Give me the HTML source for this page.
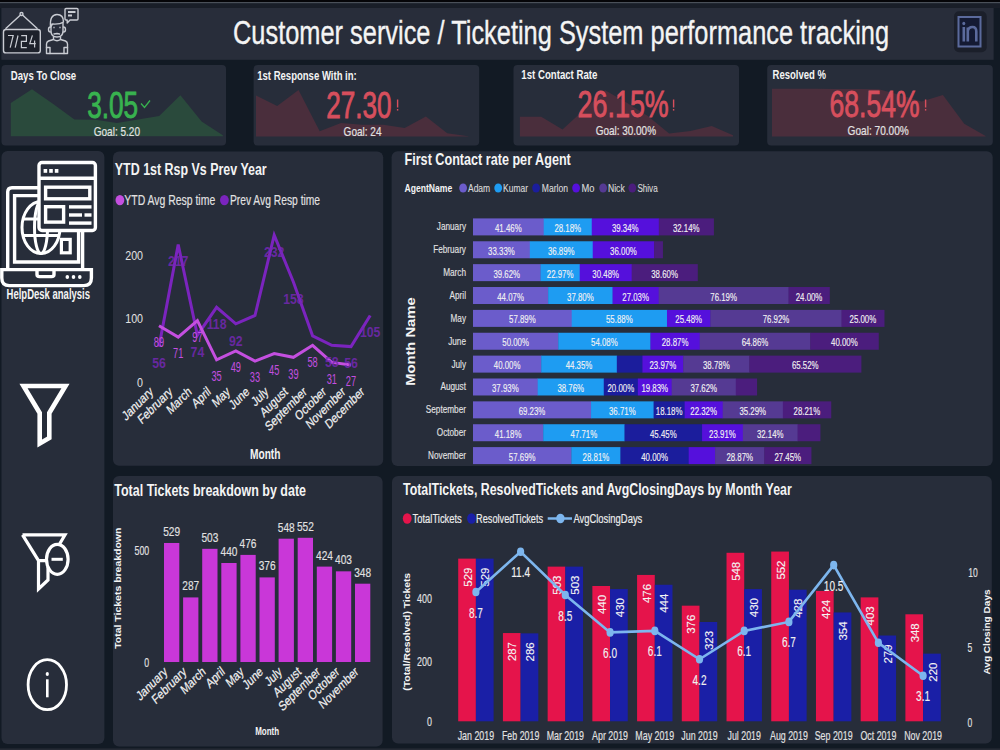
<!DOCTYPE html>
<html><head><meta charset="utf-8"><style>
html,body{margin:0;padding:0;background:#121a24;width:1000px;height:750px;overflow:hidden}
svg{display:block;font-family:"Liberation Sans",sans-serif}
</style></head><body>
<svg width="1000" height="750" viewBox="0 0 1000 750">
<rect x="0" y="0" width="1000" height="750" fill="#121a24"/>
<rect x="0" y="0" width="1000" height="2.2" fill="#050508"/>
<rect x="0" y="2.2" width="1000" height="1.2" fill="#5a5f69"/>
<rect x="0" y="3.4" width="1000" height="4.6" fill="#191e28"/>
<rect x="0" y="748.4" width="1000" height="1.6" fill="#252a34"/>
<rect x="1.4" y="8" width="992.2" height="51.8" fill="#282d3a"/>
<text x="233.00" y="44.00" font-size="32.82" textLength="656.01" lengthAdjust="spacingAndGlyphs" fill="#f4f4f4" stroke="#f4f4f4" stroke-width="0.35">Customer service / Ticketing System performance tracking</text>
<rect x="954" y="11.2" width="32.7" height="41" rx="5" fill="#1b1f2a"/>
<rect x="958.5" y="17" width="22" height="29.5" fill="#141a33" stroke="#5b6a9c" stroke-width="2"/>
<rect x="962.5" y="27" width="2.6" height="14.5" fill="#5b6a9c"/><ellipse cx="963.8" cy="23.5" rx="1.5" ry="1.8" fill="#5b6a9c"/>
<path d="M967.8 41.5 V27.5 M967.8 31 Q968.5 27 972.5 27 Q976.3 27 976.3 31.5 V41.5" fill="none" stroke="#5b6a9c" stroke-width="2.6"/>
<g fill="none" stroke="#c9ccd3" stroke-width="1.4" stroke-linejoin="round">
<rect x="3.5" y="29.5" width="36.8" height="23.4" rx="2.5" fill="#1d212b"/>
<path d="M5.5 28.8 L20.5 15 M37.5 28.8 L22.5 15"/><circle cx="21.5" cy="14" r="1.5"/>
</g>
<g fill="none" stroke="#c9ccd3" stroke-width="1.2" stroke-linejoin="miter" stroke-linecap="butt">
<path d="M8 35.5 H13.2 L10.2 47.6 M18 35.5 L15.2 47.6 M21.2 35.6 H26.4 V41.3 H21.4 V47.6 H26.8 M32.4 35.4 L29.8 43.6 H35.8 M34.6 40.5 V47.6"/>
</g>
<g fill="none" stroke="#c9ccd3" stroke-width="1.4" stroke-linejoin="round" stroke-linecap="round">
<path d="M50.5 27 Q49.5 14.5 57 14.5 Q63.5 14.5 63.5 22 Q60 24.5 52.5 24 Z"/>
<path d="M51 24 V31 Q51 37 57 37 Q63 37 63 31 V23"/>
<path d="M50.5 27 Q48.5 27 48.5 29.5 Q48.5 32 50.5 32 M63.5 27 Q65.5 27 65.5 29.5 Q65.5 32 63.5 32"/>
<path d="M54 34 L57 33.5 L59.5 34"/>
<path d="M53.5 37 V39.5 Q57 42 60.5 39.5 V37"/>
<path d="M53.5 39.5 L48.5 41 Q46.5 42 46.5 44 V53.5 H67.5 V44 Q67.5 42 65.5 41 L60.5 39.5"/>
<path d="M46.5 47.5 H50 V53.5 M67.5 47.5 H64 V53.5"/>
<path d="M66 8.5 H77 Q78 8.5 78 9.5 V19 Q78 20 77 20 H70 L67.2 23 V20 H66 Q65 20 65 19 V9.5 Q65 8.5 66 8.5 Z"/>
</g>
<path d="M68 12 H75.5 M68 15.5 H72" stroke="#c9ccd3" stroke-width="1.8"/>
<path d="M55 27.5 H53 M59 27.5 H61" stroke="#c9ccd3" stroke-width="1.6" stroke-opacity="0.6"/>
<rect x="1.5" y="65" width="224.5" height="80.6" rx="4" fill="#272d3a"/>
<rect x="253.6" y="65" width="225.6" height="80.6" rx="4" fill="#272d3a"/>
<rect x="513.5" y="65" width="225.5" height="80.6" rx="4" fill="#272d3a"/>
<rect x="767.2" y="65" width="225.6" height="80.6" rx="4" fill="#272d3a"/>
<polygon points="10.8,136.2 10.8,103 32.0,89.2 53.2,104 74.4,119.6 95.6,119.8 116.8,123 138.0,119.5 159.2,116 180.4,95.2 201.6,121.6 222.8,135.2 222.8,136.2" fill="#2a4a3c"/>
<polygon points="256,136.5 256.0,95.5 277.2,106 298.5,90 319.7,131.3 341.0,122.9 362.2,124.8 383.4,124.8 404.7,128 425.9,116.4 447.2,133.2 468.4,136.3 468.4,136.5" fill="#4a2e3c"/>
<polygon points="519.9,136.5 519.9,116.8 541.2,116.8 562.5,129.4 583.8,110 605.1,90.3 626.4,102.5 647.8,116 669.1,133.4 690.4,131 711.7,126 733.0,135.2 733,136.5" fill="#4a2e3c"/>
<polygon points="772,136.5 772.0,88.7 793.4,88.7 814.7,88.8 836.1,88.9 857.4,89 878.8,89.3 900.2,95 921.5,101.5 942.9,95 964.2,123.7 985.6,136 985.6,136.5" fill="#4a2e3c"/>
<text x="10.80" y="80.40" font-size="13.41" textLength="65.40" lengthAdjust="spacingAndGlyphs" fill="#f4f4f4" font-weight="bold">Days To Close</text>
<text x="257.20" y="79.70" font-size="13.41" textLength="99.59" lengthAdjust="spacingAndGlyphs" fill="#f4f4f4" font-weight="bold">1st Response With in:</text>
<text x="521.30" y="79.20" font-size="13.41" textLength="76.11" lengthAdjust="spacingAndGlyphs" fill="#f4f4f4" font-weight="bold">1st Contact Rate</text>
<text x="772.50" y="79.20" font-size="13.41" textLength="53.51" lengthAdjust="spacingAndGlyphs" fill="#f4f4f4" font-weight="bold">Resolved %</text>
<text x="87.20" y="117.60" font-size="37.15" textLength="50.97" lengthAdjust="spacingAndGlyphs" fill="#38b24f" stroke="#38b24f" stroke-width="0.9">3.05</text>
<path d="M141 103.5 L144.5 107.5 L150 100.5" fill="none" stroke="#38b24f" stroke-width="1.3"/>
<text x="326.30" y="118.00" font-size="37.15" textLength="65.30" lengthAdjust="spacingAndGlyphs" fill="#d74f5d" stroke="#d74f5d" stroke-width="0.9">27.30</text>
<text x="577.60" y="117.10" font-size="37.15" textLength="91.18" lengthAdjust="spacingAndGlyphs" fill="#d74f5d" stroke="#d74f5d" stroke-width="0.9">26.15%</text>
<text x="829.60" y="117.10" font-size="37.15" textLength="89.98" lengthAdjust="spacingAndGlyphs" fill="#d74f5d" stroke="#d74f5d" stroke-width="0.9">68.54%</text>
<rect x="396.90000000000003" y="99.5" width="1.4" height="8" fill="#d74f5d"/><rect x="396.90000000000003" y="109" width="1.4" height="1.6" fill="#d74f5d"/>
<rect x="672.9" y="99.5" width="1.4" height="8" fill="#d74f5d"/><rect x="672.9" y="109" width="1.4" height="1.6" fill="#d74f5d"/>
<rect x="924.9" y="99.5" width="1.4" height="8" fill="#d74f5d"/><rect x="924.9" y="109" width="1.4" height="1.6" fill="#d74f5d"/>
<text x="93.70" y="136.00" font-size="12.99" textLength="46.29" lengthAdjust="spacingAndGlyphs" fill="#e2e2e2" stroke="#e2e2e2" stroke-width="0.2">Goal: 5.20</text>
<text x="343.60" y="135.60" font-size="12.99" textLength="37.90" lengthAdjust="spacingAndGlyphs" fill="#e2e2e2" stroke="#e2e2e2" stroke-width="0.2">Goal: 24</text>
<text x="595.70" y="135.20" font-size="12.99" textLength="60.30" lengthAdjust="spacingAndGlyphs" fill="#e2e2e2" stroke="#e2e2e2" stroke-width="0.2">Goal: 30.00%</text>
<text x="847.60" y="135.40" font-size="12.99" textLength="61.20" lengthAdjust="spacingAndGlyphs" fill="#e2e2e2" stroke="#e2e2e2" stroke-width="0.2">Goal: 70.00%</text>
<rect x="1.5" y="151" width="102.9" height="593" rx="6" fill="#272d3a"/>
<rect x="113" y="151.5" width="270.2" height="314.2" rx="6" fill="#272d3a"/>
<rect x="391.6" y="151.3" width="601.1" height="314.7" rx="6" fill="#272d3a"/>
<rect x="113" y="476" width="269.6" height="270.4" rx="6" fill="#272d3a"/>
<rect x="392" y="476" width="599.8" height="267.4" rx="6" fill="#272d3a"/>
<g fill="none" stroke="#ffffff" stroke-width="3.4" stroke-linejoin="miter">
<path d="M38 187.7 H12 Q7.7 187.7 7.7 192 V269"/>
<path d="M82.6 230 V269"/>
<path d="M38 195.6 H14.6 V262 H78.6 V230"/>
<path d="M1.8 269.6 H91.4 V278 Q91.4 285.6 83.8 285.6 H9.4 Q1.8 285.6 1.8 278 Z"/>
<path d="M37 269.6 V274.5 Q37 276.6 39.5 276.6 H51.5 Q54 276.6 54 274.5 V269.6"/>
</g>
<g fill="#ffffff">
<ellipse cx="67.3" cy="277" rx="1.8" ry="2.1"/><ellipse cx="73.5" cy="277" rx="1.8" ry="2.1"/><ellipse cx="79.8" cy="277" rx="1.8" ry="2.1"/>
</g>
<g fill="none" stroke="#ffffff" stroke-width="3">
<ellipse cx="41" cy="227.5" rx="19" ry="26"/>
<ellipse cx="41" cy="227.5" rx="6.5" ry="26"/>
<path d="M23.5 219 H58.5 M23.5 235.5 H58.5"/>
</g>
<rect x="61.4" y="239.4" width="8.8" height="13.4" fill="#272d3a" stroke="#ffffff" stroke-width="3.2"/>
<rect x="39" y="162.5" width="56.4" height="68" rx="3" fill="#272d3a" stroke="#ffffff" stroke-width="3.4"/>
<g fill="none" stroke="#ffffff" stroke-width="3.4">
<path d="M39 178.2 H95.4"/>
<rect x="45.6" y="187.2" width="44.2" height="11.6"/>
<rect x="45.6" y="206.7" width="18" height="15.4"/>
</g>
<g fill="#ffffff">
<rect x="43.6" y="169" width="3.6" height="3.8"/><rect x="49.2" y="169" width="3.6" height="3.8"/><rect x="54.8" y="169" width="3.6" height="3.8"/>
<rect x="69" y="205.2" width="22.5" height="3.4"/><rect x="69" y="213.3" width="13" height="3.4"/><rect x="84.5" y="213.3" width="7" height="3.4"/><rect x="69" y="221.4" width="22.5" height="3.4"/>
</g>
<text x="6.60" y="299.00" font-size="13.97" textLength="83.41" lengthAdjust="spacingAndGlyphs" fill="#f4f4f4" font-weight="bold">HelpDesk analysis</text>
<path d="M23.5 386 H65.5 L49.3 413 V438 L39.7 443.5 V413 Z" fill="none" stroke="#ffffff" stroke-width="4.6" stroke-linejoin="miter"/>
<path d="M22.5 534.8 H65 L59 545 M47.5 560.7 H38.5 L22.5 534.8 M38.5 560.7 V589 L48 580 V567" fill="none" stroke="#ffffff" stroke-width="3.2" stroke-linejoin="miter"/>
<ellipse cx="57.3" cy="559.3" rx="10.8" ry="15" fill="none" stroke="#ffffff" stroke-width="3.2"/>
<path d="M51.5 559.3 H62.8" stroke="#ffffff" stroke-width="3"/>
<ellipse cx="47.3" cy="684.7" rx="19.2" ry="25" fill="none" stroke="#ffffff" stroke-width="2.8"/>
<ellipse cx="47.3" cy="674" rx="1.6" ry="1.9" fill="#ffffff"/><rect x="46" y="679.3" width="2.6" height="18" fill="#ffffff"/>
<text x="114.80" y="175.20" font-size="15.92" textLength="151.91" lengthAdjust="spacingAndGlyphs" fill="#f4f4f4" font-weight="bold">YTD 1st Rsp Vs Prev Year</text>
<ellipse cx="119.9" cy="200.1" rx="4.4" ry="5.2" fill="#c44fe0"/>
<text x="124.30" y="204.50" font-size="13.83" textLength="90.90" lengthAdjust="spacingAndGlyphs" fill="#e2e2e2" stroke="#e2e2e2" stroke-width="0.15">YTD Avg Resp time</text>
<ellipse cx="224.4" cy="200.1" rx="4.4" ry="5.2" fill="#7b24be"/>
<text x="229.90" y="204.50" font-size="13.83" textLength="90.21" lengthAdjust="spacingAndGlyphs" fill="#e2e2e2" stroke="#e2e2e2" stroke-width="0.15">Prev Avg Resp time</text>
<text x="125.20" y="260.40" font-size="13.69" textLength="17.81" lengthAdjust="spacingAndGlyphs" fill="#e2e2e2">200</text>
<text x="125.20" y="323.40" font-size="13.69" textLength="17.81" lengthAdjust="spacingAndGlyphs" fill="#e2e2e2">100</text>
<text x="137.07" y="386.90" font-size="13.69" textLength="5.94" lengthAdjust="spacingAndGlyphs" fill="#e2e2e2">0</text>
<polyline points="159.0,346.6 178.2,244.6 197.4,335.2 216.6,307.3 235.8,323.8 255.0,315.5 274.2,235.1 293.4,282.0 312.6,335.8 331.8,345.3 351.0,346.6 370.2,315.5" fill="none" stroke="#7b24be" stroke-width="3" stroke-linejoin="miter"/>
<polyline points="159.0,325.7 178.2,337.1 197.4,320.6 216.6,359.8 235.8,351.0 255.0,361.1 274.2,353.5 293.4,357.3 312.6,345.3 331.8,362.4 351.0,364.9" fill="none" stroke="#c44fe0" stroke-width="3" stroke-linejoin="miter"/>
<text x="153.87" y="346.96" font-size="13.97" textLength="10.25" lengthAdjust="spacingAndGlyphs" fill="#c44fe0">89</text>
<text x="173.07" y="358.36" font-size="13.97" textLength="10.25" lengthAdjust="spacingAndGlyphs" fill="#c44fe0">71</text>
<text x="192.27" y="341.90" font-size="13.97" textLength="10.25" lengthAdjust="spacingAndGlyphs" fill="#c44fe0">97</text>
<text x="211.47" y="381.15" font-size="13.97" textLength="10.25" lengthAdjust="spacingAndGlyphs" fill="#c44fe0">35</text>
<text x="230.67" y="372.28" font-size="13.97" textLength="10.25" lengthAdjust="spacingAndGlyphs" fill="#c44fe0">49</text>
<text x="249.87" y="382.41" font-size="13.97" textLength="10.25" lengthAdjust="spacingAndGlyphs" fill="#c44fe0">33</text>
<text x="269.07" y="374.81" font-size="13.97" textLength="10.25" lengthAdjust="spacingAndGlyphs" fill="#c44fe0">45</text>
<text x="288.27" y="378.61" font-size="13.97" textLength="10.25" lengthAdjust="spacingAndGlyphs" fill="#c44fe0">39</text>
<text x="307.47" y="366.59" font-size="13.97" textLength="10.25" lengthAdjust="spacingAndGlyphs" fill="#c44fe0">58</text>
<text x="326.67" y="383.68" font-size="13.97" textLength="10.25" lengthAdjust="spacingAndGlyphs" fill="#c44fe0">31</text>
<text x="345.87" y="386.21" font-size="13.97" textLength="10.25" lengthAdjust="spacingAndGlyphs" fill="#c44fe0">27</text>
<text x="152.16" y="368.35" font-size="13.97" textLength="13.67" lengthAdjust="spacingAndGlyphs" fill="#7428b4" font-weight="bold" fill-opacity="0.85">56</text>
<text x="167.95" y="266.44" font-size="13.97" textLength="20.51" lengthAdjust="spacingAndGlyphs" fill="#7428b4" font-weight="bold" fill-opacity="0.85">217</text>
<text x="190.56" y="356.96" font-size="13.97" textLength="13.67" lengthAdjust="spacingAndGlyphs" fill="#7428b4" font-weight="bold" fill-opacity="0.85">74</text>
<text x="206.69" y="329.11" font-size="13.97" textLength="19.83" lengthAdjust="spacingAndGlyphs" fill="#7428b4" font-weight="bold" fill-opacity="0.85">118</text>
<text x="228.96" y="345.56" font-size="13.97" textLength="13.67" lengthAdjust="spacingAndGlyphs" fill="#7428b4" font-weight="bold" fill-opacity="0.85">92</text>
<text x="263.95" y="256.94" font-size="13.97" textLength="20.51" lengthAdjust="spacingAndGlyphs" fill="#7428b4" font-weight="bold" fill-opacity="0.85">232</text>
<text x="283.15" y="303.79" font-size="13.97" textLength="20.51" lengthAdjust="spacingAndGlyphs" fill="#7428b4" font-weight="bold" fill-opacity="0.85">158</text>
<text x="324.96" y="367.09" font-size="13.97" textLength="13.67" lengthAdjust="spacingAndGlyphs" fill="#7428b4" font-weight="bold" fill-opacity="0.85">58</text>
<text x="344.16" y="368.35" font-size="13.97" textLength="13.67" lengthAdjust="spacingAndGlyphs" fill="#7428b4" font-weight="bold" fill-opacity="0.85">56</text>
<text x="359.95" y="337.33" font-size="13.97" textLength="20.51" lengthAdjust="spacingAndGlyphs" fill="#7428b4" font-weight="bold" fill-opacity="0.85">105</text>
<g transform="translate(154.00,393.00) scale(1,1.2) rotate(-40)">
<text x="-36.57" y="0.00" font-size="11.17" textLength="36.57" lengthAdjust="spacingAndGlyphs" fill="#f0f0f0" stroke="#f0f0f0" stroke-width="0.2">January</text>
</g>
<g transform="translate(173.20,393.00) scale(1,1.2) rotate(-40)">
<text x="-41.14" y="0.00" font-size="11.17" textLength="41.13" lengthAdjust="spacingAndGlyphs" fill="#f0f0f0" stroke="#f0f0f0" stroke-width="0.2">February</text>
</g>
<g transform="translate(192.40,393.00) scale(1,1.2) rotate(-40)">
<text x="-28.55" y="0.00" font-size="11.17" textLength="28.56" lengthAdjust="spacingAndGlyphs" fill="#f0f0f0" stroke="#f0f0f0" stroke-width="0.2">March</text>
</g>
<g transform="translate(211.60,393.00) scale(1,1.2) rotate(-40)">
<text x="-20.56" y="0.00" font-size="11.17" textLength="20.56" lengthAdjust="spacingAndGlyphs" fill="#f0f0f0" stroke="#f0f0f0" stroke-width="0.2">April</text>
</g>
<g transform="translate(230.80,393.00) scale(1,1.2) rotate(-40)">
<text x="-19.43" y="0.00" font-size="11.17" textLength="19.42" lengthAdjust="spacingAndGlyphs" fill="#f0f0f0" stroke="#f0f0f0" stroke-width="0.2">May</text>
</g>
<g transform="translate(250.00,393.00) scale(1,1.2) rotate(-40)">
<text x="-22.28" y="0.00" font-size="11.17" textLength="22.29" lengthAdjust="spacingAndGlyphs" fill="#f0f0f0" stroke="#f0f0f0" stroke-width="0.2">June</text>
</g>
<g transform="translate(269.20,393.00) scale(1,1.2) rotate(-40)">
<text x="-18.27" y="0.00" font-size="11.17" textLength="18.28" lengthAdjust="spacingAndGlyphs" fill="#f0f0f0" stroke="#f0f0f0" stroke-width="0.2">July</text>
</g>
<g transform="translate(288.40,393.00) scale(1,1.2) rotate(-40)">
<text x="-31.99" y="0.00" font-size="11.17" textLength="32.00" lengthAdjust="spacingAndGlyphs" fill="#f0f0f0" stroke="#f0f0f0" stroke-width="0.2">August</text>
</g>
<g transform="translate(307.60,393.00) scale(1,1.2) rotate(-40)">
<text x="-50.29" y="0.00" font-size="11.17" textLength="50.28" lengthAdjust="spacingAndGlyphs" fill="#f0f0f0" stroke="#f0f0f0" stroke-width="0.2">September</text>
</g>
<g transform="translate(326.80,393.00) scale(1,1.2) rotate(-40)">
<text x="-36.57" y="0.00" font-size="11.17" textLength="36.57" lengthAdjust="spacingAndGlyphs" fill="#f0f0f0" stroke="#f0f0f0" stroke-width="0.2">October</text>
</g>
<g transform="translate(346.00,393.00) scale(1,1.2) rotate(-40)">
<text x="-47.41" y="0.00" font-size="11.17" textLength="47.42" lengthAdjust="spacingAndGlyphs" fill="#f0f0f0" stroke="#f0f0f0" stroke-width="0.2">November</text>
</g>
<g transform="translate(365.20,393.00) scale(1,1.2) rotate(-40)">
<text x="-47.41" y="0.00" font-size="11.17" textLength="47.42" lengthAdjust="spacingAndGlyphs" fill="#f0f0f0" stroke="#f0f0f0" stroke-width="0.2">December</text>
</g>
<text x="250.00" y="458.60" font-size="13.97" textLength="30.41" lengthAdjust="spacingAndGlyphs" fill="#f4f4f4" font-weight="bold">Month</text>
<text x="404.50" y="164.50" font-size="16.20" textLength="166.30" lengthAdjust="spacingAndGlyphs" fill="#f4f4f4" font-weight="bold">First Contact rate per Agent</text>
<text x="404.50" y="191.80" font-size="11.45" textLength="47.79" lengthAdjust="spacingAndGlyphs" fill="#f4f4f4" font-weight="bold">AgentName</text>
<ellipse cx="463.1" cy="188" rx="3.9" ry="4.5" fill="#6b5ccb"/>
<text x="468.00" y="192.00" font-size="11.73" textLength="22.10" lengthAdjust="spacingAndGlyphs" fill="#d8d8d8" stroke="#d8d8d8" stroke-width="0.15">Adam</text>
<ellipse cx="498.2" cy="188" rx="3.9" ry="4.5" fill="#1e9cf2"/>
<text x="503.10" y="192.00" font-size="11.73" textLength="24.90" lengthAdjust="spacingAndGlyphs" fill="#d8d8d8" stroke="#d8d8d8" stroke-width="0.15">Kumar</text>
<ellipse cx="536.1" cy="188" rx="3.9" ry="4.5" fill="#1b1d9c"/>
<text x="541.80" y="192.00" font-size="11.73" textLength="26.19" lengthAdjust="spacingAndGlyphs" fill="#d8d8d8" stroke="#d8d8d8" stroke-width="0.15">Marlon</text>
<ellipse cx="576.1" cy="188" rx="3.9" ry="4.5" fill="#5510dc"/>
<text x="581.50" y="192.00" font-size="11.73" textLength="12.99" lengthAdjust="spacingAndGlyphs" fill="#d8d8d8" stroke="#d8d8d8" stroke-width="0.15">Mo</text>
<ellipse cx="603.1" cy="188" rx="3.9" ry="4.5" fill="#553a93"/>
<text x="608.00" y="192.00" font-size="11.73" textLength="16.67" lengthAdjust="spacingAndGlyphs" fill="#d8d8d8" stroke="#d8d8d8" stroke-width="0.15">Nick</text>
<ellipse cx="632.3" cy="188" rx="3.9" ry="4.5" fill="#4b1d7d"/>
<text x="637.40" y="192.00" font-size="11.73" textLength="20.29" lengthAdjust="spacingAndGlyphs" fill="#d8d8d8" stroke="#d8d8d8" stroke-width="0.15">Shiva</text>
<text x="436.78" y="230.30" font-size="11.73" textLength="29.22" lengthAdjust="spacingAndGlyphs" fill="#e2e2e2" stroke="#e2e2e2" stroke-width="0.15">January</text>
<rect x="473.00" y="218.40" width="70.99" height="17" fill="#6b5ccb"/>
<text x="495.01" y="231.90" font-size="11.73" textLength="26.66" lengthAdjust="spacingAndGlyphs" fill="#f2f2f2" stroke="#f2f2f2" stroke-width="0.15">41.46%</text>
<rect x="543.69" y="218.40" width="48.35" height="17" fill="#1e9cf2"/>
<text x="554.38" y="231.90" font-size="11.73" textLength="26.66" lengthAdjust="spacingAndGlyphs" fill="#f2f2f2" stroke="#f2f2f2" stroke-width="0.15">28.18%</text>
<rect x="591.74" y="218.40" width="67.37" height="17" fill="#5510dc"/>
<text x="611.94" y="231.90" font-size="11.73" textLength="26.66" lengthAdjust="spacingAndGlyphs" fill="#f2f2f2" stroke="#f2f2f2" stroke-width="0.15">39.34%</text>
<rect x="658.81" y="218.40" width="55.10" height="17" fill="#4b1d7d"/>
<text x="672.88" y="231.90" font-size="11.73" textLength="26.66" lengthAdjust="spacingAndGlyphs" fill="#f2f2f2" stroke="#f2f2f2" stroke-width="0.15">32.14%</text>
<text x="433.13" y="253.17" font-size="11.73" textLength="32.86" lengthAdjust="spacingAndGlyphs" fill="#e2e2e2" stroke="#e2e2e2" stroke-width="0.15">February</text>
<rect x="473.00" y="241.27" width="57.13" height="17" fill="#6b5ccb"/>
<text x="488.08" y="254.77" font-size="11.73" textLength="26.66" lengthAdjust="spacingAndGlyphs" fill="#f2f2f2" stroke="#f2f2f2" stroke-width="0.15">33.33%</text>
<rect x="529.83" y="241.27" width="63.20" height="17" fill="#1e9cf2"/>
<text x="547.94" y="254.77" font-size="11.73" textLength="26.66" lengthAdjust="spacingAndGlyphs" fill="#f2f2f2" stroke="#f2f2f2" stroke-width="0.15">36.89%</text>
<rect x="592.73" y="241.27" width="61.68" height="17" fill="#5510dc"/>
<text x="610.08" y="254.77" font-size="11.73" textLength="26.66" lengthAdjust="spacingAndGlyphs" fill="#f2f2f2" stroke="#f2f2f2" stroke-width="0.15">36.00%</text>
<rect x="654.11" y="241.27" width="8.83" height="17" fill="#4b1d7d"/>
<text x="443.19" y="276.04" font-size="11.73" textLength="22.82" lengthAdjust="spacingAndGlyphs" fill="#e2e2e2" stroke="#e2e2e2" stroke-width="0.15">March</text>
<rect x="473.00" y="264.14" width="67.85" height="17" fill="#6b5ccb"/>
<text x="493.44" y="277.64" font-size="11.73" textLength="26.66" lengthAdjust="spacingAndGlyphs" fill="#f2f2f2" stroke="#f2f2f2" stroke-width="0.15">39.62%</text>
<rect x="540.55" y="264.14" width="39.46" height="17" fill="#1e9cf2"/>
<text x="546.80" y="277.64" font-size="11.73" textLength="26.66" lengthAdjust="spacingAndGlyphs" fill="#f2f2f2" stroke="#f2f2f2" stroke-width="0.15">22.97%</text>
<rect x="579.72" y="264.14" width="52.27" height="17" fill="#5510dc"/>
<text x="592.37" y="277.64" font-size="11.73" textLength="26.66" lengthAdjust="spacingAndGlyphs" fill="#f2f2f2" stroke="#f2f2f2" stroke-width="0.15">30.48%</text>
<rect x="631.68" y="264.14" width="66.11" height="17" fill="#4b1d7d"/>
<text x="651.26" y="277.64" font-size="11.73" textLength="26.66" lengthAdjust="spacingAndGlyphs" fill="#f2f2f2" stroke="#f2f2f2" stroke-width="0.15">38.60%</text>
<text x="449.58" y="298.91" font-size="11.73" textLength="16.43" lengthAdjust="spacingAndGlyphs" fill="#e2e2e2" stroke="#e2e2e2" stroke-width="0.15">April</text>
<rect x="473.00" y="287.01" width="75.44" height="17" fill="#6b5ccb"/>
<text x="497.24" y="300.51" font-size="11.73" textLength="26.66" lengthAdjust="spacingAndGlyphs" fill="#f2f2f2" stroke="#f2f2f2" stroke-width="0.15">44.07%</text>
<rect x="548.14" y="287.01" width="64.75" height="17" fill="#1e9cf2"/>
<text x="567.03" y="300.51" font-size="11.73" textLength="26.66" lengthAdjust="spacingAndGlyphs" fill="#f2f2f2" stroke="#f2f2f2" stroke-width="0.15">37.80%</text>
<rect x="612.59" y="287.01" width="46.39" height="17" fill="#5510dc"/>
<text x="622.30" y="300.51" font-size="11.73" textLength="26.66" lengthAdjust="spacingAndGlyphs" fill="#f2f2f2" stroke="#f2f2f2" stroke-width="0.15">27.03%</text>
<rect x="658.67" y="287.01" width="130.20" height="17" fill="#553a93"/>
<text x="710.29" y="300.51" font-size="11.73" textLength="26.66" lengthAdjust="spacingAndGlyphs" fill="#f2f2f2" stroke="#f2f2f2" stroke-width="0.15">76.19%</text>
<rect x="788.58" y="287.01" width="41.22" height="17" fill="#4b1d7d"/>
<text x="795.71" y="300.51" font-size="11.73" textLength="26.66" lengthAdjust="spacingAndGlyphs" fill="#f2f2f2" stroke="#f2f2f2" stroke-width="0.15">24.00%</text>
<text x="450.48" y="321.78" font-size="11.73" textLength="15.51" lengthAdjust="spacingAndGlyphs" fill="#e2e2e2" stroke="#e2e2e2" stroke-width="0.15">May</text>
<rect x="473.00" y="309.88" width="99.00" height="17" fill="#6b5ccb"/>
<text x="509.02" y="323.38" font-size="11.73" textLength="26.66" lengthAdjust="spacingAndGlyphs" fill="#f2f2f2" stroke="#f2f2f2" stroke-width="0.15">57.89%</text>
<rect x="571.70" y="309.88" width="95.58" height="17" fill="#1e9cf2"/>
<text x="606.01" y="323.38" font-size="11.73" textLength="26.66" lengthAdjust="spacingAndGlyphs" fill="#f2f2f2" stroke="#f2f2f2" stroke-width="0.15">55.88%</text>
<rect x="666.98" y="309.88" width="43.74" height="17" fill="#5510dc"/>
<text x="675.37" y="323.38" font-size="11.73" textLength="26.66" lengthAdjust="spacingAndGlyphs" fill="#f2f2f2" stroke="#f2f2f2" stroke-width="0.15">25.48%</text>
<rect x="710.42" y="309.88" width="131.45" height="17" fill="#553a93"/>
<text x="762.66" y="323.38" font-size="11.73" textLength="26.66" lengthAdjust="spacingAndGlyphs" fill="#f2f2f2" stroke="#f2f2f2" stroke-width="0.15">76.92%</text>
<rect x="841.57" y="309.88" width="42.92" height="17" fill="#4b1d7d"/>
<text x="849.55" y="323.38" font-size="11.73" textLength="26.66" lengthAdjust="spacingAndGlyphs" fill="#f2f2f2" stroke="#f2f2f2" stroke-width="0.15">25.00%</text>
<text x="448.20" y="344.65" font-size="11.73" textLength="17.81" lengthAdjust="spacingAndGlyphs" fill="#e2e2e2" stroke="#e2e2e2" stroke-width="0.15">June</text>
<rect x="473.00" y="332.75" width="85.55" height="17" fill="#6b5ccb"/>
<text x="502.29" y="346.25" font-size="11.73" textLength="26.66" lengthAdjust="spacingAndGlyphs" fill="#f2f2f2" stroke="#f2f2f2" stroke-width="0.15">50.00%</text>
<rect x="558.25" y="332.75" width="92.51" height="17" fill="#1e9cf2"/>
<text x="591.02" y="346.25" font-size="11.73" textLength="26.66" lengthAdjust="spacingAndGlyphs" fill="#f2f2f2" stroke="#f2f2f2" stroke-width="0.15">54.08%</text>
<rect x="650.46" y="332.75" width="49.52" height="17" fill="#5510dc"/>
<text x="661.73" y="346.25" font-size="11.73" textLength="26.66" lengthAdjust="spacingAndGlyphs" fill="#f2f2f2" stroke="#f2f2f2" stroke-width="0.15">28.87%</text>
<rect x="699.68" y="332.75" width="110.89" height="17" fill="#553a93"/>
<text x="741.64" y="346.25" font-size="11.73" textLength="26.66" lengthAdjust="spacingAndGlyphs" fill="#f2f2f2" stroke="#f2f2f2" stroke-width="0.15">64.86%</text>
<rect x="810.27" y="332.75" width="68.50" height="17" fill="#4b1d7d"/>
<text x="831.03" y="346.25" font-size="11.73" textLength="26.66" lengthAdjust="spacingAndGlyphs" fill="#f2f2f2" stroke="#f2f2f2" stroke-width="0.15">40.00%</text>
<text x="451.40" y="367.52" font-size="11.73" textLength="14.60" lengthAdjust="spacingAndGlyphs" fill="#e2e2e2" stroke="#e2e2e2" stroke-width="0.15">July</text>
<rect x="473.00" y="355.62" width="68.50" height="17" fill="#6b5ccb"/>
<text x="493.77" y="369.12" font-size="11.73" textLength="26.66" lengthAdjust="spacingAndGlyphs" fill="#f2f2f2" stroke="#f2f2f2" stroke-width="0.15">40.00%</text>
<rect x="541.20" y="355.62" width="75.92" height="17" fill="#1e9cf2"/>
<text x="565.68" y="369.12" font-size="11.73" textLength="26.66" lengthAdjust="spacingAndGlyphs" fill="#f2f2f2" stroke="#f2f2f2" stroke-width="0.15">44.35%</text>
<rect x="616.82" y="355.62" width="25.88" height="17" fill="#1b1d9c"/>
<rect x="642.39" y="355.62" width="41.17" height="17" fill="#5510dc"/>
<text x="649.49" y="369.12" font-size="11.73" textLength="26.66" lengthAdjust="spacingAndGlyphs" fill="#f2f2f2" stroke="#f2f2f2" stroke-width="0.15">23.97%</text>
<rect x="683.26" y="355.62" width="66.42" height="17" fill="#553a93"/>
<text x="702.99" y="369.12" font-size="11.73" textLength="26.66" lengthAdjust="spacingAndGlyphs" fill="#f2f2f2" stroke="#f2f2f2" stroke-width="0.15">38.78%</text>
<rect x="749.38" y="355.62" width="112.01" height="17" fill="#4b1d7d"/>
<text x="791.90" y="369.12" font-size="11.73" textLength="26.66" lengthAdjust="spacingAndGlyphs" fill="#f2f2f2" stroke="#f2f2f2" stroke-width="0.15">65.52%</text>
<text x="440.44" y="390.39" font-size="11.73" textLength="25.57" lengthAdjust="spacingAndGlyphs" fill="#e2e2e2" stroke="#e2e2e2" stroke-width="0.15">August</text>
<rect x="473.00" y="378.49" width="64.97" height="17" fill="#6b5ccb"/>
<text x="492.00" y="391.99" font-size="11.73" textLength="26.66" lengthAdjust="spacingAndGlyphs" fill="#f2f2f2" stroke="#f2f2f2" stroke-width="0.15">37.93%</text>
<rect x="537.67" y="378.49" width="66.39" height="17" fill="#1e9cf2"/>
<text x="557.38" y="391.99" font-size="11.73" textLength="26.66" lengthAdjust="spacingAndGlyphs" fill="#f2f2f2" stroke="#f2f2f2" stroke-width="0.15">38.76%</text>
<rect x="603.76" y="378.49" width="34.40" height="17" fill="#1b1d9c"/>
<text x="607.47" y="391.99" font-size="11.73" textLength="26.66" lengthAdjust="spacingAndGlyphs" fill="#f2f2f2" stroke="#f2f2f2" stroke-width="0.15">20.00%</text>
<rect x="637.86" y="378.49" width="34.11" height="17" fill="#5510dc"/>
<text x="641.43" y="391.99" font-size="11.73" textLength="26.66" lengthAdjust="spacingAndGlyphs" fill="#f2f2f2" stroke="#f2f2f2" stroke-width="0.15">19.83%</text>
<rect x="671.67" y="378.49" width="64.44" height="17" fill="#553a93"/>
<text x="690.40" y="391.99" font-size="11.73" textLength="26.66" lengthAdjust="spacingAndGlyphs" fill="#f2f2f2" stroke="#f2f2f2" stroke-width="0.15">37.62%</text>
<rect x="735.81" y="378.49" width="21.27" height="17" fill="#4b1d7d"/>
<text x="425.82" y="413.26" font-size="11.73" textLength="40.17" lengthAdjust="spacingAndGlyphs" fill="#e2e2e2" stroke="#e2e2e2" stroke-width="0.15">September</text>
<rect x="473.00" y="401.36" width="118.34" height="17" fill="#6b5ccb"/>
<text x="518.69" y="414.86" font-size="11.73" textLength="26.66" lengthAdjust="spacingAndGlyphs" fill="#f2f2f2" stroke="#f2f2f2" stroke-width="0.15">69.23%</text>
<rect x="591.04" y="401.36" width="62.89" height="17" fill="#1e9cf2"/>
<text x="609.00" y="414.86" font-size="11.73" textLength="26.66" lengthAdjust="spacingAndGlyphs" fill="#f2f2f2" stroke="#f2f2f2" stroke-width="0.15">36.71%</text>
<rect x="653.63" y="401.36" width="31.30" height="17" fill="#1b1d9c"/>
<text x="655.79" y="414.86" font-size="11.73" textLength="26.66" lengthAdjust="spacingAndGlyphs" fill="#f2f2f2" stroke="#f2f2f2" stroke-width="0.15">18.18%</text>
<rect x="684.62" y="401.36" width="38.36" height="17" fill="#5510dc"/>
<text x="690.32" y="414.86" font-size="11.73" textLength="26.66" lengthAdjust="spacingAndGlyphs" fill="#f2f2f2" stroke="#f2f2f2" stroke-width="0.15">22.32%</text>
<rect x="722.68" y="401.36" width="60.47" height="17" fill="#553a93"/>
<text x="739.43" y="414.86" font-size="11.73" textLength="26.66" lengthAdjust="spacingAndGlyphs" fill="#f2f2f2" stroke="#f2f2f2" stroke-width="0.15">35.29%</text>
<rect x="782.85" y="401.36" width="48.40" height="17" fill="#4b1d7d"/>
<text x="793.57" y="414.86" font-size="11.73" textLength="26.66" lengthAdjust="spacingAndGlyphs" fill="#f2f2f2" stroke="#f2f2f2" stroke-width="0.15">28.21%</text>
<text x="436.78" y="436.13" font-size="11.73" textLength="29.21" lengthAdjust="spacingAndGlyphs" fill="#e2e2e2" stroke="#e2e2e2" stroke-width="0.15">October</text>
<rect x="473.00" y="424.23" width="70.51" height="17" fill="#6b5ccb"/>
<text x="494.77" y="437.73" font-size="11.73" textLength="26.66" lengthAdjust="spacingAndGlyphs" fill="#f2f2f2" stroke="#f2f2f2" stroke-width="0.15">41.18%</text>
<rect x="543.21" y="424.23" width="81.65" height="17" fill="#1e9cf2"/>
<text x="570.55" y="437.73" font-size="11.73" textLength="26.66" lengthAdjust="spacingAndGlyphs" fill="#f2f2f2" stroke="#f2f2f2" stroke-width="0.15">47.71%</text>
<rect x="624.56" y="424.23" width="77.79" height="17" fill="#1b1d9c"/>
<text x="649.97" y="437.73" font-size="11.73" textLength="26.66" lengthAdjust="spacingAndGlyphs" fill="#f2f2f2" stroke="#f2f2f2" stroke-width="0.15">45.45%</text>
<rect x="702.05" y="424.23" width="41.07" height="17" fill="#5510dc"/>
<text x="709.10" y="437.73" font-size="11.73" textLength="26.66" lengthAdjust="spacingAndGlyphs" fill="#f2f2f2" stroke="#f2f2f2" stroke-width="0.15">23.91%</text>
<rect x="742.82" y="424.23" width="55.10" height="17" fill="#553a93"/>
<text x="756.88" y="437.73" font-size="11.73" textLength="26.66" lengthAdjust="spacingAndGlyphs" fill="#f2f2f2" stroke="#f2f2f2" stroke-width="0.15">32.14%</text>
<rect x="797.61" y="424.23" width="22.81" height="17" fill="#4b1d7d"/>
<text x="428.12" y="459.00" font-size="11.73" textLength="37.88" lengthAdjust="spacingAndGlyphs" fill="#e2e2e2" stroke="#e2e2e2" stroke-width="0.15">November</text>
<rect x="473.00" y="447.10" width="98.66" height="17" fill="#6b5ccb"/>
<text x="508.85" y="460.60" font-size="11.73" textLength="26.66" lengthAdjust="spacingAndGlyphs" fill="#f2f2f2" stroke="#f2f2f2" stroke-width="0.15">57.69%</text>
<rect x="571.36" y="447.10" width="49.42" height="17" fill="#1e9cf2"/>
<text x="582.59" y="460.60" font-size="11.73" textLength="26.66" lengthAdjust="spacingAndGlyphs" fill="#f2f2f2" stroke="#f2f2f2" stroke-width="0.15">28.81%</text>
<rect x="620.48" y="447.10" width="68.50" height="17" fill="#1b1d9c"/>
<text x="641.25" y="460.60" font-size="11.73" textLength="26.66" lengthAdjust="spacingAndGlyphs" fill="#f2f2f2" stroke="#f2f2f2" stroke-width="0.15">40.00%</text>
<rect x="688.68" y="447.10" width="26.73" height="17" fill="#5510dc"/>
<rect x="715.11" y="447.10" width="49.52" height="17" fill="#553a93"/>
<text x="726.39" y="460.60" font-size="11.73" textLength="26.66" lengthAdjust="spacingAndGlyphs" fill="#f2f2f2" stroke="#f2f2f2" stroke-width="0.15">28.87%</text>
<rect x="764.33" y="447.10" width="47.10" height="17" fill="#4b1d7d"/>
<text x="774.40" y="460.60" font-size="11.73" textLength="26.66" lengthAdjust="spacingAndGlyphs" fill="#f2f2f2" stroke="#f2f2f2" stroke-width="0.15">27.45%</text>
<g transform="translate(410.20,341.60)  rotate(-90)">
<text x="-44.25" y="4.80" font-size="13.41" textLength="88.49" lengthAdjust="spacingAndGlyphs" fill="#f4f4f4" font-weight="bold">Month Name</text>
</g>
<text x="114.30" y="495.50" font-size="16.76" textLength="191.69" lengthAdjust="spacingAndGlyphs" fill="#f4f4f4" font-weight="bold">Total Tickets breakdown by date</text>
<rect x="164.00" y="542.98" width="15.3" height="119.03" fill="#c937d8"/>
<text x="163.21" y="535.88" font-size="13.69" textLength="16.90" lengthAdjust="spacingAndGlyphs" fill="#e2e2e2" stroke="#e2e2e2" stroke-width="0.15">529</text>
<g transform="translate(168.15,673.00) scale(1,1.2) rotate(-40)">
<text x="-36.57" y="0.00" font-size="11.17" textLength="36.57" lengthAdjust="spacingAndGlyphs" fill="#f0f0f0" stroke="#f0f0f0" stroke-width="0.2">January</text>
</g>
<rect x="183.10" y="597.42" width="15.3" height="64.58" fill="#c937d8"/>
<text x="182.31" y="590.32" font-size="13.69" textLength="16.90" lengthAdjust="spacingAndGlyphs" fill="#e2e2e2" stroke="#e2e2e2" stroke-width="0.15">287</text>
<g transform="translate(187.25,673.00) scale(1,1.2) rotate(-40)">
<text x="-41.14" y="0.00" font-size="11.17" textLength="41.13" lengthAdjust="spacingAndGlyphs" fill="#f0f0f0" stroke="#f0f0f0" stroke-width="0.2">February</text>
</g>
<rect x="202.20" y="548.83" width="15.3" height="113.17" fill="#c937d8"/>
<text x="201.41" y="541.73" font-size="13.69" textLength="16.90" lengthAdjust="spacingAndGlyphs" fill="#e2e2e2" stroke="#e2e2e2" stroke-width="0.15">503</text>
<g transform="translate(206.35,673.00) scale(1,1.2) rotate(-40)">
<text x="-28.55" y="0.00" font-size="11.17" textLength="28.56" lengthAdjust="spacingAndGlyphs" fill="#f0f0f0" stroke="#f0f0f0" stroke-width="0.2">March</text>
</g>
<rect x="221.30" y="563.00" width="15.3" height="99.00" fill="#c937d8"/>
<text x="220.51" y="555.90" font-size="13.69" textLength="16.90" lengthAdjust="spacingAndGlyphs" fill="#e2e2e2" stroke="#e2e2e2" stroke-width="0.15">440</text>
<g transform="translate(225.45,673.00) scale(1,1.2) rotate(-40)">
<text x="-20.56" y="0.00" font-size="11.17" textLength="20.56" lengthAdjust="spacingAndGlyphs" fill="#f0f0f0" stroke="#f0f0f0" stroke-width="0.2">April</text>
</g>
<rect x="240.40" y="554.90" width="15.3" height="107.10" fill="#c937d8"/>
<text x="239.61" y="547.80" font-size="13.69" textLength="16.90" lengthAdjust="spacingAndGlyphs" fill="#e2e2e2" stroke="#e2e2e2" stroke-width="0.15">476</text>
<g transform="translate(244.55,673.00) scale(1,1.2) rotate(-40)">
<text x="-19.43" y="0.00" font-size="11.17" textLength="19.42" lengthAdjust="spacingAndGlyphs" fill="#f0f0f0" stroke="#f0f0f0" stroke-width="0.2">May</text>
</g>
<rect x="259.50" y="577.40" width="15.3" height="84.60" fill="#c937d8"/>
<text x="258.71" y="570.30" font-size="13.69" textLength="16.90" lengthAdjust="spacingAndGlyphs" fill="#e2e2e2" stroke="#e2e2e2" stroke-width="0.15">376</text>
<g transform="translate(263.65,673.00) scale(1,1.2) rotate(-40)">
<text x="-22.28" y="0.00" font-size="11.17" textLength="22.29" lengthAdjust="spacingAndGlyphs" fill="#f0f0f0" stroke="#f0f0f0" stroke-width="0.2">June</text>
</g>
<rect x="278.60" y="538.70" width="15.3" height="123.30" fill="#c937d8"/>
<text x="277.81" y="531.60" font-size="13.69" textLength="16.90" lengthAdjust="spacingAndGlyphs" fill="#e2e2e2" stroke="#e2e2e2" stroke-width="0.15">548</text>
<g transform="translate(282.75,673.00) scale(1,1.2) rotate(-40)">
<text x="-18.27" y="0.00" font-size="11.17" textLength="18.28" lengthAdjust="spacingAndGlyphs" fill="#f0f0f0" stroke="#f0f0f0" stroke-width="0.2">July</text>
</g>
<rect x="297.70" y="537.80" width="15.3" height="124.20" fill="#c937d8"/>
<text x="296.91" y="530.70" font-size="13.69" textLength="16.90" lengthAdjust="spacingAndGlyphs" fill="#e2e2e2" stroke="#e2e2e2" stroke-width="0.15">552</text>
<g transform="translate(301.85,673.00) scale(1,1.2) rotate(-40)">
<text x="-31.99" y="0.00" font-size="11.17" textLength="32.00" lengthAdjust="spacingAndGlyphs" fill="#f0f0f0" stroke="#f0f0f0" stroke-width="0.2">August</text>
</g>
<rect x="316.80" y="566.60" width="15.3" height="95.40" fill="#c937d8"/>
<text x="316.01" y="559.50" font-size="13.69" textLength="16.90" lengthAdjust="spacingAndGlyphs" fill="#e2e2e2" stroke="#e2e2e2" stroke-width="0.15">424</text>
<g transform="translate(320.95,673.00) scale(1,1.2) rotate(-40)">
<text x="-50.29" y="0.00" font-size="11.17" textLength="50.28" lengthAdjust="spacingAndGlyphs" fill="#f0f0f0" stroke="#f0f0f0" stroke-width="0.2">September</text>
</g>
<rect x="335.90" y="571.33" width="15.3" height="90.67" fill="#c937d8"/>
<text x="335.11" y="564.23" font-size="13.69" textLength="16.90" lengthAdjust="spacingAndGlyphs" fill="#e2e2e2" stroke="#e2e2e2" stroke-width="0.15">403</text>
<g transform="translate(340.05,673.00) scale(1,1.2) rotate(-40)">
<text x="-36.57" y="0.00" font-size="11.17" textLength="36.57" lengthAdjust="spacingAndGlyphs" fill="#f0f0f0" stroke="#f0f0f0" stroke-width="0.2">October</text>
</g>
<rect x="355.00" y="583.70" width="15.3" height="78.30" fill="#c937d8"/>
<text x="354.21" y="576.60" font-size="13.69" textLength="16.90" lengthAdjust="spacingAndGlyphs" fill="#e2e2e2" stroke="#e2e2e2" stroke-width="0.15">348</text>
<g transform="translate(359.15,673.00) scale(1,1.2) rotate(-40)">
<text x="-47.41" y="0.00" font-size="11.17" textLength="47.42" lengthAdjust="spacingAndGlyphs" fill="#f0f0f0" stroke="#f0f0f0" stroke-width="0.2">November</text>
</g>
<text x="134.53" y="554.50" font-size="12.57" textLength="14.68" lengthAdjust="spacingAndGlyphs" fill="#e2e2e2" stroke="#e2e2e2" stroke-width="0.15">500</text>
<text x="144.32" y="666.50" font-size="12.57" textLength="4.89" lengthAdjust="spacingAndGlyphs" fill="#e2e2e2" stroke="#e2e2e2" stroke-width="0.15">0</text>
<g transform="translate(117.40,588.20)  rotate(-90)">
<text x="-60.60" y="3.30" font-size="9.22" textLength="121.20" lengthAdjust="spacingAndGlyphs" fill="#f4f4f4" font-weight="bold">Total Tickets breakdown</text>
</g>
<text x="255.20" y="734.70" font-size="11.45" textLength="23.91" lengthAdjust="spacingAndGlyphs" fill="#f4f4f4" font-weight="bold">Month</text>
<text x="403.00" y="495.20" font-size="16.76" textLength="388.69" lengthAdjust="spacingAndGlyphs" fill="#f4f4f4" font-weight="bold">TotalTickets, ResolvedTickets and AvgClosingDays by Month Year</text>
<ellipse cx="407.2" cy="518.5" rx="4.4" ry="5.2" fill="#e5144b"/>
<text x="412.60" y="523.00" font-size="12.85" textLength="49.20" lengthAdjust="spacingAndGlyphs" fill="#ececec" stroke="#ececec" stroke-width="0.2">TotalTickets</text>
<ellipse cx="471.5" cy="518.5" rx="4.4" ry="5.2" fill="#1a1fa6"/>
<text x="476.10" y="523.00" font-size="12.85" textLength="66.99" lengthAdjust="spacingAndGlyphs" fill="#ececec" stroke="#ececec" stroke-width="0.2">ResolvedTickets</text>
<path d="M547.7 518.5 H572" stroke="#7db6ee" stroke-width="2.5"/><ellipse cx="560.4" cy="518.5" rx="4.2" ry="4.8" fill="#7db6ee"/>
<text x="573.40" y="523.00" font-size="12.85" textLength="68.91" lengthAdjust="spacingAndGlyphs" fill="#ececec" stroke="#ececec" stroke-width="0.2">AvgClosingDays</text>
<rect x="458.20" y="558.63" width="17.7" height="162.67" fill="#e5144b"/>
<rect x="475.90" y="558.63" width="17.7" height="162.67" fill="#1a1fa6"/>
<rect x="502.92" y="633.05" width="17.7" height="88.25" fill="#e5144b"/>
<rect x="520.62" y="633.36" width="17.7" height="87.94" fill="#1a1fa6"/>
<rect x="547.64" y="566.63" width="17.7" height="154.67" fill="#e5144b"/>
<rect x="565.34" y="566.63" width="17.7" height="154.67" fill="#1a1fa6"/>
<rect x="592.36" y="586.00" width="17.7" height="135.30" fill="#e5144b"/>
<rect x="610.06" y="589.07" width="17.7" height="132.22" fill="#1a1fa6"/>
<rect x="637.08" y="574.93" width="17.7" height="146.37" fill="#e5144b"/>
<rect x="654.78" y="584.77" width="17.7" height="136.53" fill="#1a1fa6"/>
<rect x="681.80" y="605.68" width="17.7" height="115.62" fill="#e5144b"/>
<rect x="699.50" y="621.98" width="17.7" height="99.32" fill="#1a1fa6"/>
<rect x="726.52" y="552.79" width="17.7" height="168.51" fill="#e5144b"/>
<rect x="744.22" y="589.07" width="17.7" height="132.22" fill="#1a1fa6"/>
<rect x="771.24" y="551.56" width="17.7" height="169.74" fill="#e5144b"/>
<rect x="788.94" y="589.69" width="17.7" height="131.61" fill="#1a1fa6"/>
<rect x="815.96" y="590.92" width="17.7" height="130.38" fill="#e5144b"/>
<rect x="833.66" y="612.44" width="17.7" height="108.86" fill="#1a1fa6"/>
<rect x="860.68" y="597.38" width="17.7" height="123.92" fill="#e5144b"/>
<rect x="878.38" y="635.51" width="17.7" height="85.79" fill="#1a1fa6"/>
<rect x="905.40" y="614.29" width="17.7" height="107.01" fill="#e5144b"/>
<rect x="923.10" y="653.65" width="17.7" height="67.65" fill="#1a1fa6"/>
<g transform="translate(471.75,567.63)  rotate(-90)">
<text x="-19.07" y="0.00" font-size="10.89" textLength="19.09" lengthAdjust="spacingAndGlyphs" fill="#f4f4f4" stroke="#f4f4f4" stroke-width="0.1">529</text>
</g>
<g transform="translate(489.45,567.63)  rotate(-90)">
<text x="-19.07" y="0.00" font-size="10.89" textLength="19.09" lengthAdjust="spacingAndGlyphs" fill="#f4f4f4" stroke="#f4f4f4" stroke-width="0.1">529</text>
</g>
<text x="457.69" y="739.70" font-size="12.29" textLength="36.41" lengthAdjust="spacingAndGlyphs" fill="#e2e2e2" stroke="#e2e2e2" stroke-width="0.15">Jan 2019</text>
<g transform="translate(516.47,642.05)  rotate(-90)">
<text x="-19.07" y="0.00" font-size="10.89" textLength="19.09" lengthAdjust="spacingAndGlyphs" fill="#f4f4f4" stroke="#f4f4f4" stroke-width="0.1">287</text>
</g>
<g transform="translate(534.17,642.36)  rotate(-90)">
<text x="-19.07" y="0.00" font-size="10.89" textLength="19.09" lengthAdjust="spacingAndGlyphs" fill="#f4f4f4" stroke="#f4f4f4" stroke-width="0.1">286</text>
</g>
<text x="501.93" y="739.70" font-size="12.29" textLength="37.39" lengthAdjust="spacingAndGlyphs" fill="#e2e2e2" stroke="#e2e2e2" stroke-width="0.15">Feb 2019</text>
<g transform="translate(561.19,575.63)  rotate(-90)">
<text x="-19.07" y="0.00" font-size="10.89" textLength="19.09" lengthAdjust="spacingAndGlyphs" fill="#f4f4f4" stroke="#f4f4f4" stroke-width="0.1">503</text>
</g>
<g transform="translate(578.89,575.63)  rotate(-90)">
<text x="-19.07" y="0.00" font-size="10.89" textLength="19.09" lengthAdjust="spacingAndGlyphs" fill="#f4f4f4" stroke="#f4f4f4" stroke-width="0.1">503</text>
</g>
<text x="546.65" y="739.70" font-size="12.29" textLength="37.39" lengthAdjust="spacingAndGlyphs" fill="#e2e2e2" stroke="#e2e2e2" stroke-width="0.15">Mar 2019</text>
<g transform="translate(605.91,595.00)  rotate(-90)">
<text x="-19.07" y="0.00" font-size="10.89" textLength="19.09" lengthAdjust="spacingAndGlyphs" fill="#f4f4f4" stroke="#f4f4f4" stroke-width="0.1">440</text>
</g>
<g transform="translate(623.61,598.07)  rotate(-90)">
<text x="-19.07" y="0.00" font-size="10.89" textLength="19.09" lengthAdjust="spacingAndGlyphs" fill="#f4f4f4" stroke="#f4f4f4" stroke-width="0.1">430</text>
</g>
<text x="592.11" y="739.70" font-size="12.29" textLength="35.92" lengthAdjust="spacingAndGlyphs" fill="#e2e2e2" stroke="#e2e2e2" stroke-width="0.15">Apr 2019</text>
<g transform="translate(650.63,583.93)  rotate(-90)">
<text x="-19.07" y="0.00" font-size="10.89" textLength="19.09" lengthAdjust="spacingAndGlyphs" fill="#f4f4f4" stroke="#f4f4f4" stroke-width="0.1">476</text>
</g>
<g transform="translate(668.33,593.77)  rotate(-90)">
<text x="-19.07" y="0.00" font-size="10.89" textLength="19.09" lengthAdjust="spacingAndGlyphs" fill="#f4f4f4" stroke="#f4f4f4" stroke-width="0.1">444</text>
</g>
<text x="635.35" y="739.70" font-size="12.29" textLength="38.86" lengthAdjust="spacingAndGlyphs" fill="#e2e2e2" stroke="#e2e2e2" stroke-width="0.15">May 2019</text>
<g transform="translate(695.35,614.68)  rotate(-90)">
<text x="-19.07" y="0.00" font-size="10.89" textLength="19.09" lengthAdjust="spacingAndGlyphs" fill="#f4f4f4" stroke="#f4f4f4" stroke-width="0.1">376</text>
</g>
<g transform="translate(713.05,630.98)  rotate(-90)">
<text x="-19.07" y="0.00" font-size="10.89" textLength="19.09" lengthAdjust="spacingAndGlyphs" fill="#f4f4f4" stroke="#f4f4f4" stroke-width="0.1">323</text>
</g>
<text x="681.29" y="739.70" font-size="12.29" textLength="36.41" lengthAdjust="spacingAndGlyphs" fill="#e2e2e2" stroke="#e2e2e2" stroke-width="0.15">Jun 2019</text>
<g transform="translate(740.07,561.79)  rotate(-90)">
<text x="-19.07" y="0.00" font-size="10.89" textLength="19.09" lengthAdjust="spacingAndGlyphs" fill="#f4f4f4" stroke="#f4f4f4" stroke-width="0.1">548</text>
</g>
<g transform="translate(757.77,598.07)  rotate(-90)">
<text x="-19.07" y="0.00" font-size="10.89" textLength="19.09" lengthAdjust="spacingAndGlyphs" fill="#f4f4f4" stroke="#f4f4f4" stroke-width="0.1">430</text>
</g>
<text x="727.50" y="739.70" font-size="12.29" textLength="33.46" lengthAdjust="spacingAndGlyphs" fill="#e2e2e2" stroke="#e2e2e2" stroke-width="0.15">Jul 2019</text>
<g transform="translate(784.79,560.56)  rotate(-90)">
<text x="-19.07" y="0.00" font-size="10.89" textLength="19.09" lengthAdjust="spacingAndGlyphs" fill="#f4f4f4" stroke="#f4f4f4" stroke-width="0.1">552</text>
</g>
<g transform="translate(802.49,598.69)  rotate(-90)">
<text x="-19.07" y="0.00" font-size="10.89" textLength="19.09" lengthAdjust="spacingAndGlyphs" fill="#f4f4f4" stroke="#f4f4f4" stroke-width="0.1">428</text>
</g>
<text x="769.99" y="739.70" font-size="12.29" textLength="37.89" lengthAdjust="spacingAndGlyphs" fill="#e2e2e2" stroke="#e2e2e2" stroke-width="0.15">Aug 2019</text>
<g transform="translate(829.51,599.92)  rotate(-90)">
<text x="-19.07" y="0.00" font-size="10.89" textLength="19.09" lengthAdjust="spacingAndGlyphs" fill="#f4f4f4" stroke="#f4f4f4" stroke-width="0.1">424</text>
</g>
<g transform="translate(847.21,621.44)  rotate(-90)">
<text x="-19.07" y="0.00" font-size="10.89" textLength="19.09" lengthAdjust="spacingAndGlyphs" fill="#f4f4f4" stroke="#f4f4f4" stroke-width="0.1">354</text>
</g>
<text x="814.71" y="739.70" font-size="12.29" textLength="37.89" lengthAdjust="spacingAndGlyphs" fill="#e2e2e2" stroke="#e2e2e2" stroke-width="0.15">Sep 2019</text>
<g transform="translate(874.23,606.38)  rotate(-90)">
<text x="-19.07" y="0.00" font-size="10.89" textLength="19.09" lengthAdjust="spacingAndGlyphs" fill="#f4f4f4" stroke="#f4f4f4" stroke-width="0.1">403</text>
</g>
<g transform="translate(891.93,644.51)  rotate(-90)">
<text x="-19.07" y="0.00" font-size="10.89" textLength="19.09" lengthAdjust="spacingAndGlyphs" fill="#f4f4f4" stroke="#f4f4f4" stroke-width="0.1">279</text>
</g>
<text x="860.43" y="739.70" font-size="12.29" textLength="35.91" lengthAdjust="spacingAndGlyphs" fill="#e2e2e2" stroke="#e2e2e2" stroke-width="0.15">Oct 2019</text>
<g transform="translate(918.95,623.29)  rotate(-90)">
<text x="-19.07" y="0.00" font-size="10.89" textLength="19.09" lengthAdjust="spacingAndGlyphs" fill="#f4f4f4" stroke="#f4f4f4" stroke-width="0.1">348</text>
</g>
<g transform="translate(936.65,662.65)  rotate(-90)">
<text x="-19.07" y="0.00" font-size="10.89" textLength="19.09" lengthAdjust="spacingAndGlyphs" fill="#f4f4f4" stroke="#f4f4f4" stroke-width="0.1">220</text>
</g>
<text x="904.16" y="739.70" font-size="12.29" textLength="37.88" lengthAdjust="spacingAndGlyphs" fill="#e2e2e2" stroke="#e2e2e2" stroke-width="0.15">Nov 2019</text>
<polyline points="475.9,592.0 520.6,551.7 565.3,595.0 610.1,632.4 654.8,630.9 699.5,659.3 744.2,630.9 788.9,621.9 833.7,565.1 878.4,642.8 923.1,675.7" fill="none" stroke="#7db6ee" stroke-width="2.6" stroke-linejoin="miter"/>
<ellipse cx="475.9" cy="592.0" rx="3.6" ry="4.3" fill="#7db6ee"/>
<text x="468.91" y="617.52" font-size="13.97" textLength="13.98" lengthAdjust="spacingAndGlyphs" fill="#f0f0f0" stroke="#f0f0f0" stroke-width="0.15">8.7</text>
<ellipse cx="520.6" cy="551.7" rx="3.6" ry="4.3" fill="#7db6ee"/>
<text x="511.21" y="577.18" font-size="13.97" textLength="18.83" lengthAdjust="spacingAndGlyphs" fill="#f0f0f0" stroke="#f0f0f0" stroke-width="0.15">11.4</text>
<ellipse cx="565.3" cy="595.0" rx="3.6" ry="4.3" fill="#7db6ee"/>
<text x="558.35" y="620.51" font-size="13.97" textLength="13.98" lengthAdjust="spacingAndGlyphs" fill="#f0f0f0" stroke="#f0f0f0" stroke-width="0.15">8.5</text>
<ellipse cx="610.1" cy="632.4" rx="3.6" ry="4.3" fill="#7db6ee"/>
<text x="603.07" y="657.86" font-size="13.97" textLength="13.98" lengthAdjust="spacingAndGlyphs" fill="#f0f0f0" stroke="#f0f0f0" stroke-width="0.15">6.0</text>
<ellipse cx="654.8" cy="630.9" rx="3.6" ry="4.3" fill="#7db6ee"/>
<text x="647.79" y="656.37" font-size="13.97" textLength="13.98" lengthAdjust="spacingAndGlyphs" fill="#f0f0f0" stroke="#f0f0f0" stroke-width="0.15">6.1</text>
<ellipse cx="699.5" cy="659.3" rx="3.6" ry="4.3" fill="#7db6ee"/>
<text x="692.51" y="684.75" font-size="13.97" textLength="13.98" lengthAdjust="spacingAndGlyphs" fill="#f0f0f0" stroke="#f0f0f0" stroke-width="0.15">4.2</text>
<ellipse cx="744.2" cy="630.9" rx="3.6" ry="4.3" fill="#7db6ee"/>
<text x="737.23" y="656.37" font-size="13.97" textLength="13.98" lengthAdjust="spacingAndGlyphs" fill="#f0f0f0" stroke="#f0f0f0" stroke-width="0.15">6.1</text>
<ellipse cx="788.9" cy="621.9" rx="3.6" ry="4.3" fill="#7db6ee"/>
<text x="781.95" y="647.40" font-size="13.97" textLength="13.98" lengthAdjust="spacingAndGlyphs" fill="#f0f0f0" stroke="#f0f0f0" stroke-width="0.15">6.7</text>
<ellipse cx="833.7" cy="565.1" rx="3.6" ry="4.3" fill="#7db6ee"/>
<text x="823.87" y="590.63" font-size="13.97" textLength="19.57" lengthAdjust="spacingAndGlyphs" fill="#f0f0f0" stroke="#f0f0f0" stroke-width="0.15">10.5</text>
<ellipse cx="878.4" cy="642.8" rx="3.6" ry="4.3" fill="#7db6ee"/>
<ellipse cx="923.1" cy="675.7" rx="3.6" ry="4.3" fill="#7db6ee"/>
<text x="916.11" y="701.19" font-size="13.97" textLength="13.98" lengthAdjust="spacingAndGlyphs" fill="#f0f0f0" stroke="#f0f0f0" stroke-width="0.15">3.1</text>
<text x="427.05" y="726.00" font-size="13.13" textLength="4.97" lengthAdjust="spacingAndGlyphs" fill="#e2e2e2" stroke="#e2e2e2" stroke-width="0.15">0</text>
<text x="417.11" y="665.60" font-size="13.13" textLength="14.90" lengthAdjust="spacingAndGlyphs" fill="#e2e2e2" stroke="#e2e2e2" stroke-width="0.15">200</text>
<text x="417.11" y="603.00" font-size="13.13" textLength="14.90" lengthAdjust="spacingAndGlyphs" fill="#e2e2e2" stroke="#e2e2e2" stroke-width="0.15">400</text>
<text x="967.44" y="726.80" font-size="13.41" textLength="4.77" lengthAdjust="spacingAndGlyphs" fill="#e2e2e2" stroke="#e2e2e2" stroke-width="0.15">0</text>
<text x="967.44" y="652.40" font-size="13.41" textLength="4.77" lengthAdjust="spacingAndGlyphs" fill="#e2e2e2" stroke="#e2e2e2" stroke-width="0.15">5</text>
<text x="968.15" y="577.10" font-size="13.41" textLength="9.55" lengthAdjust="spacingAndGlyphs" fill="#e2e2e2" stroke="#e2e2e2" stroke-width="0.15">10</text>
<g transform="translate(406.80,631.80)  rotate(-90)">
<text x="-58.85" y="3.20" font-size="8.94" textLength="117.71" lengthAdjust="spacingAndGlyphs" fill="#f4f4f4" font-weight="bold">(Total/Resolved) Tickets</text>
</g>
<g transform="translate(987.00,632.00)  rotate(-90)">
<text x="-42.60" y="3.20" font-size="8.94" textLength="85.20" lengthAdjust="spacingAndGlyphs" fill="#f4f4f4" font-weight="bold">Avg Closing Days</text>
</g>
</svg></body></html>
